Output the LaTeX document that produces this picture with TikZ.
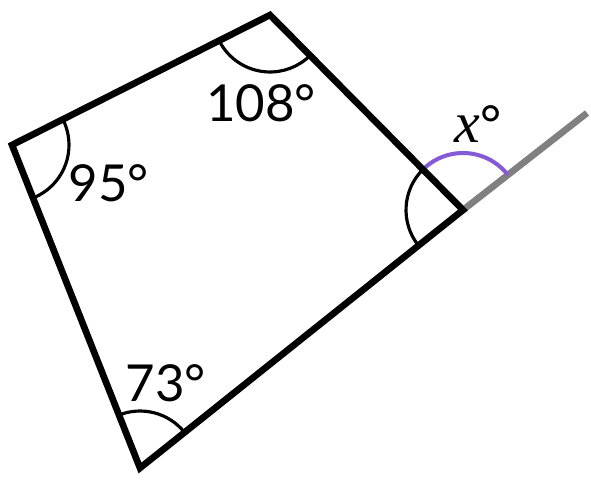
\documentclass[tikz,border=0pt]{standalone}
\usepackage{fontspec}
\setmainfont{Lato}
\newfontfamily\varfont{Liberation Serif}
\usepackage{tikz}
\usetikzlibrary{angles, positioning}
\definecolor{anglepurple}{RGB}{134, 90, 214}
\definecolor{extgray}{RGB}{128, 128, 128}
\tikzset{
  side/.style={
    draw, line width=3.8pt, line join=miter
  },
  extline/.style={
    draw=extgray, line width=3.8pt
  },
  anglemark/.style={
    draw, line width=1.8pt, angle radius=1.14cm
  },
  extmark/.style={
    draw=anglepurple, line width=2.3pt, angle radius=1.14cm
  },
  anglelabel/.style={
    inner sep=0pt, font=\fontsize{29}{34}\selectfont
  }
}
\begin{document}
\begin{tikzpicture}[x=0.02cm, y=0.02cm]
  \useasboundingbox (0,0) rectangle (591,487);
  \coordinate (top) at (270,472);
  \coordinate (left) at (12,342);
  \coordinate (bottom) at (140,19);
  \coordinate (right) at (463,277);
  \coordinate (ext) at (587,374);

  % extended side
  \draw[extline] (right) -- (ext);

  % angle arcs
  \pic[anglemark] {angle = left--top--right};
  \pic[anglemark] {angle = bottom--left--top};
  \pic[anglemark] {angle = right--bottom--left};
  \pic[anglemark] {angle = top--right--bottom};
  \pic[extmark] {angle = ext--right--top};

  \draw[side] (top) -- (left) -- (bottom) -- (right) -- cycle;

  \node[anglelabel] (lbl108) at (261,384) {108°};
  \node[anglelabel] (lbl95) at (109,304) {95°};
  \node[anglelabel] (lbl73) at (166,104) {73°};
  \node[anglelabel] (lblx) at (478,363) {{\varfont\itshape\fontsize{33}{36}\selectfont x}°};
\end{tikzpicture}
\end{document}
